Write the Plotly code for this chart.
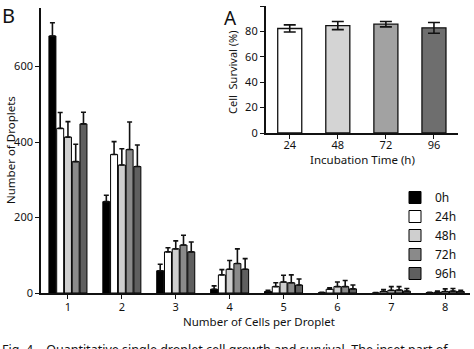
import plotly.graph_objects as go

# ---- main panel data (B) ----
cells = [1, 2, 3, 4, 5, 6, 7, 8]
series_names = ["0h", "24h", "48h", "72h", "96h"]
v_0h = [681, 242, 59, 10, 4, 1, 0, 1]
v_24h = [436, 367, 109, 48, 17, 10, 4, 2]
v_48h = [413, 339, 117, 63, 29, 17, 7, 4]
v_72h = [348, 380, 127, 78, 27, 17, 8, 5]
v_96h = [448, 335, 109, 63, 21, 11, 5, 4]
e_0h = [35, 17, 17, 9, 3, 1, 1, 1]
e_24h = [42, 34, 11, 14, 10, 4, 5, 3]
e_48h = [41, 43, 21, 23, 18, 12, 10, 7]
e_72h = [46, 73, 26, 39, 21, 16, 9, 7]
e_96h = [31, 57, 26, 28, 16, 10, 7, 3]
series_colors = ["#000000", "#ffffff", "#cfcfcf", "#8a8a8a", "#5f5f5f"]

# ---- inset data (A) ----
inc_time = ["24", "48", "72", "96"]
survival = [82.3, 84.6, 85.7, 82.8]
survival_err = [2.8, 3.2, 2.1, 4.2]
inset_colors = ["#ffffff", "#d4d4d4", "#a2a2a2", "#6e6e6e"]

FONT = "Noto Sans"
W, H = 474, 349

fig = go.Figure()
vals = [v_0h, v_24h, v_48h, v_72h, v_96h]
errs = [e_0h, e_24h, e_48h, e_72h, e_96h]
for name, v, e, c in zip(series_names, vals, errs, series_colors):
    fig.add_trace(go.Bar(
        x=cells, y=v, name=name, marker=dict(color=c, line=dict(color="#000", width=1)),
        error_y=dict(type="data", array=e, arrayminus=[0]*len(e), symmetric=False,
                     color="#111", thickness=1.6, width=2.5),
        xaxis="x", yaxis="y"))

fig.add_trace(go.Bar(
    x=inc_time, y=survival, width=0.5, showlegend=False,
    marker=dict(color=inset_colors, line=dict(color="#111", width=1.3)),
    error_y=dict(type="data", array=survival_err, symmetric=True,
                 color="#111", thickness=1.6, width=6),
    xaxis="x2", yaxis="y2"))

axis_common = dict(showline=True, linecolor="#111", linewidth=1.6, ticks="outside",
                   tickcolor="#111", tickwidth=1.4, ticklen=4, showgrid=False,
                   zeroline=False, automargin=False,
                   tickfont=dict(family=FONT, size=11, color="#111"))

def ann(text, x, y, **kw):
    d = dict(text=text, x=x / W, y=(H - y) / H, xref="paper", yref="paper",
             showarrow=False, xanchor="center", yanchor="middle",
             font=dict(family=FONT, size=11.5, color="#111"))
    d.update(kw)
    return d

fig.update_layout(
    width=W, height=H, margin=dict(l=0, r=0, t=0, b=0, autoexpand=False),
    paper_bgcolor="white", plot_bgcolor="rgba(0,0,0,0)",
    barmode="group", bargap=0.28, bargroupgap=0.1,
    font=dict(family=FONT, size=11, color="#111"),
    xaxis=dict(domain=[41/W, 470/W], range=[0.5, 8.46], tickvals=cells, anchor="y",
               ticklabelstandoff=-1, **axis_common),
    yaxis=dict(domain=[(H-293)/H, (H-8)/H], range=[0, 755], tickvals=[0, 200, 400, 600],
               anchor="x", **axis_common),
    xaxis2=dict(domain=[265.7/W, 458/W], range=[-0.5, 3.5], type="category", anchor="y2",
                ticklabelstandoff=-3, **axis_common),
    yaxis2=dict(domain=[(H-133)/H, (H-6)/H], range=[0, 100], tickvals=[0, 20, 40, 60, 80, 100],
                anchor="x2", **axis_common),
    legend=dict(x=395/W, y=(H-183)/H, xanchor="left", yanchor="top",
                font=dict(family=FONT, size=12, color="#111"), tracegroupgap=0,
                itemwidth=30, bgcolor="rgba(0,0,0,0)"),
    annotations=[
        ann("Number of Droplets", 10, 150, textangle=-90),
        ann("Number of Cells per Droplet", 259, 321),
        ann("Cell  Survival (%)", 232, 72, textangle=-90, font=dict(family=FONT, size=11, color="#111")),
        ann("Incubation Time (h)", 362, 159.5),
        ann("B", 0, 0, xanchor="left", yanchor="top", font=dict(family=FONT, size=20, color="#111")),
        ann("A", 222, 3, xanchor="left", yanchor="top", font=dict(family=FONT, size=19, color="#111")),
        ann("Fig. 4    Quantitative single droplet cell growth and survival. The inset part of",
            0, 349, xanchor="left", font=dict(family=FONT, size=12.5, color="#111")),
    ],
)

fig.write_html("out.html")
